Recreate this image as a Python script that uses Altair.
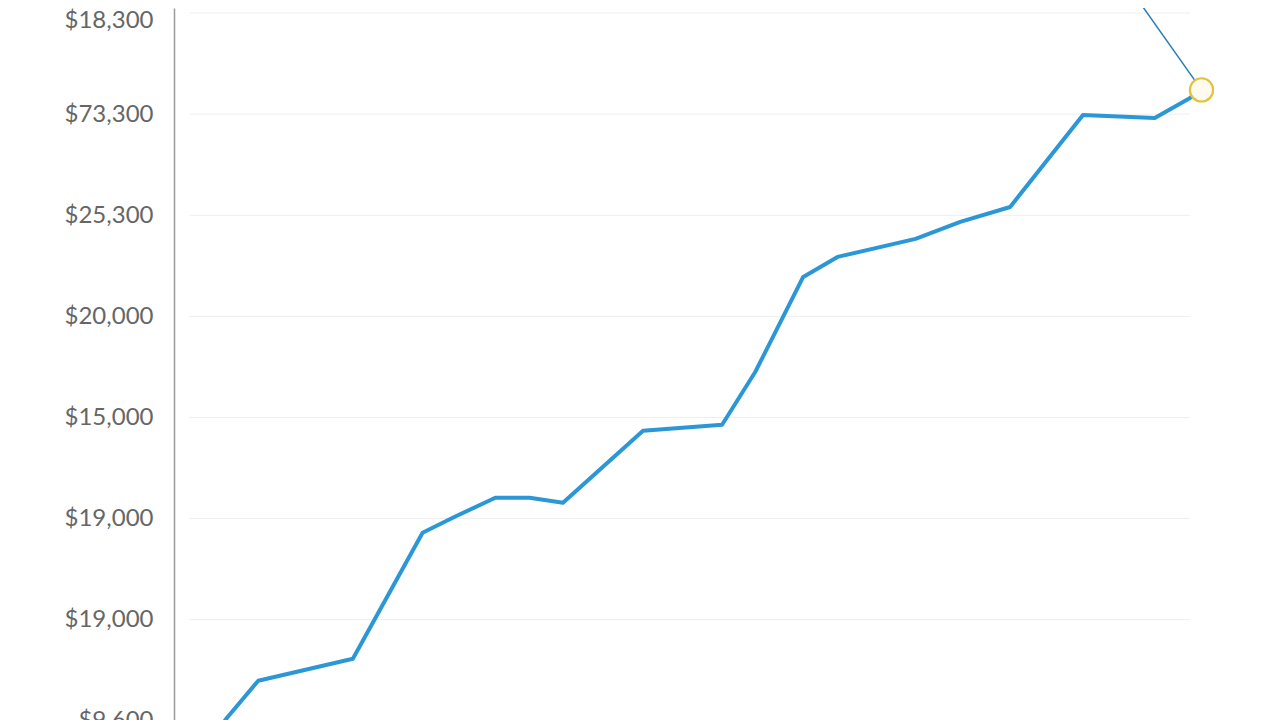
import altair as alt
import pandas as pd

# Main series (x: period index, y: dollars)
main_x = [3.6, 5.1, 8.1, 17.2, 23.9, 27.0, 30.9, 34.2, 37.4, 45.1, 52.7, 55.9, 60.5, 63.8, 71.3, 75.6, 80.4, 87.4, 94.3, 97.7, 98.8]
main_y = [-900, 150, 1980, 3070, 9300, 10090, 11030, 11030, 10780, 14340, 14640, 17260, 21950, 22940, 23830, 24670, 25410, 29960, 29810, 30800, 31200]

# Thin secondary line leaving the end marker
thin_x = [98.8, 91.0]
thin_y = [31200, 36880]

# Highlighted end point
point_x = [98.8]
point_y = [31200]

# Y tick values and their (as-shown) labels
tick_values = [0, 5000, 10000, 15000, 20000, 25000, 30000, 35000]
tick_labels = ["$9,600", "$19,000", "$19,000", "$15,000", "$20,000", "$25,300", "$73,300", "$18,300"]

Y_DOMAIN = [-1000, 35250]
X_DOMAIN = [0, 100]
GRID_X0, GRID_X1 = 1.5, 97.7

main_df = pd.DataFrame({"x": main_x, "y": main_y})
thin_df = pd.DataFrame({"x": thin_x, "y": thin_y})
pt_df = pd.DataFrame({"x": point_x, "y": point_y})
grid_df = pd.DataFrame({"y": tick_values, "x0": GRID_X0, "x1": GRID_X1})

label_map = "{" + ",".join(f"'{v}':'{l}'" for v, l in zip(tick_values, tick_labels)) + "}"
label_expr = f"{label_map}[''+datum.value]"

yscale = alt.Scale(domain=Y_DOMAIN, nice=False, zero=False)
xscale = alt.Scale(domain=X_DOMAIN, nice=False, zero=False)

yaxis = alt.Axis(
    values=tick_values,
    labelExpr=label_expr,
    title=None,
    grid=False,
    ticks=False,
    tickSize=0,
    domain=True,
    domainColor="#9a9a9a",
    domainWidth=1.5,
    labelFont="Lato",
    labelFontSize=24,
    labelColor="#666666",
    labelPadding=21,
    labelOffset={"condition": {"test": f"datum.value == {tick_values[-1]}", "value": 7}, "value": 0},
)

grid = alt.Chart(grid_df).mark_rule(color="#eeeeee", strokeWidth=1).encode(
    x=alt.X("x0:Q", scale=xscale, axis=None),
    x2="x1:Q",
    y=alt.Y("y:Q", scale=yscale, axis=yaxis),
)

main_line = alt.Chart(main_df).mark_line(
    color="#2b97d6", strokeWidth=4, strokeJoin="round", strokeCap="round"
).encode(
    x=alt.X("x:Q", scale=xscale, axis=None),
    y=alt.Y("y:Q", scale=yscale),
)

thin_line = alt.Chart(thin_df).mark_line(color="#2a7db5", strokeWidth=1.5).encode(
    x=alt.X("x:Q", scale=xscale, axis=None),
    y=alt.Y("y:Q", scale=yscale),
)

end_point = alt.Chart(pt_df).mark_point(
    shape="circle", size=540, filled=True, fill="#fffaee", stroke="#e2c23a", strokeWidth=2.2, opacity=1
).encode(
    x=alt.X("x:Q", scale=xscale, axis=None),
    y=alt.Y("y:Q", scale=yscale),
)

chart = alt.layer(grid, main_line, thin_line, end_point).properties(
    width=1040,
    height=733,
    padding={"left": 166, "top": 0, "right": 0, "bottom": 0},
    autosize=alt.AutoSizeParams(type="none"),
    background="white",
).configure_view(stroke=None)

chart.save("out.html", embed_options={"renderer": "svg", "actions": False})
